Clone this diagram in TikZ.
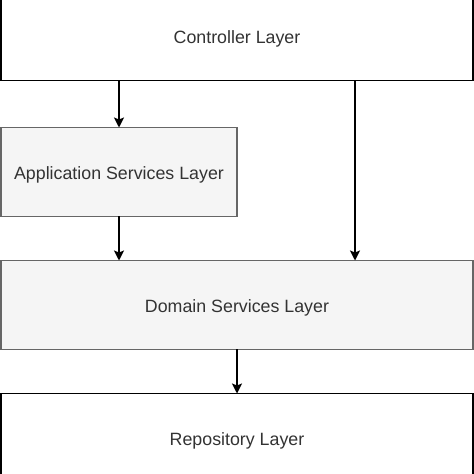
\documentclass[tikz,border=0pt]{standalone}
\usepackage{fontspec}
\setmainfont{Liberation Sans}
\usetikzlibrary{%
	calc,%
	arrows.meta,%
	positioning,%
}
\definecolor{cgraylight}{RGB}{245, 245, 245}
\definecolor{cgrayline}{RGB}{102, 102, 102}
\definecolor{ctext}{RGB}{51, 51, 51}
\tikzset{
	>={Stealth[length=10pt, width=10pt, inset=2pt]},%
	nodes={align=center},%
	layer/.style={%
			draw=black,%
			rectangle,%
			line width=1.3pt,%
			minimum width=472pt,%
			minimum height=89pt,%
			outer sep=0pt,%
			text height=18pt,%
			text depth=3.7pt,%
			text=ctext,%
			fill=white},%
	servicelayer/.style={%
			layer,%
			draw=cgrayline,%
			fill=cgraylight},%
	flow/.style={->, line width=1.3pt},%
}

\begin{document}
\begin{tikzpicture}[x=1pt, y=1pt, nodes={font={\fontsize{17.8}{21}\selectfont}}]%
	\path[use as bounding box, clip] (0,0) rectangle (474,474);

	\node[layer] (controller) at (237,438) {Controller Layer};

	\node[servicelayer, minimum width=236pt, below=47pt of controller.south west, anchor=north west] (appservices) {Application Services Layer};

	\node[servicelayer, below=44pt of appservices.south west, anchor=north west] (domain) {Domain Services Layer};

	\node[layer, below=44pt of domain] (repository) {Repository Layer};

	\draw[flow] (controller.south -| appservices.north) to (appservices.north);
	\draw[flow] (appservices) to (domain.north -| appservices.south);
	\draw[flow] ($(controller.south west)!0.75!(controller.south east)$) to ($(domain.north west)!0.75!(domain.north east)$);
	\draw[flow] (domain) to (repository);
\end{tikzpicture}
\end{document}
